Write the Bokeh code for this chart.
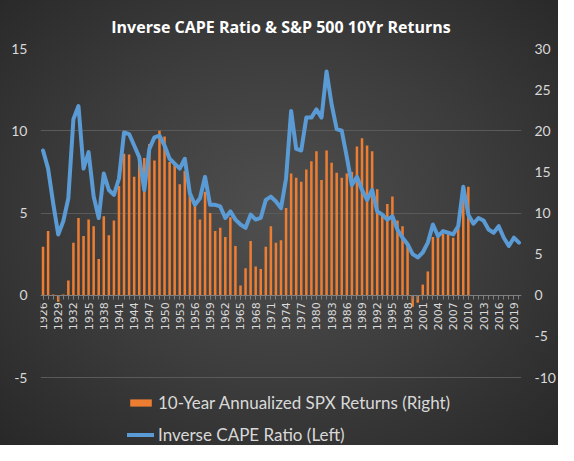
from bokeh.plotting import figure
from bokeh.models import Range1d, LinearAxis, FixedTicker, Legend, LegendItem, Grid
from bokeh.embed import file_html
from bokeh.resources import INLINE

# ---- data ----
years = list(range(1926, 2021))
return_years = list(range(1926, 2011))
spx_returns = [
    5.9, 7.8, 0.1, -0.8, 0.1, 1.8, 6.4, 9.4, 7.2, 9.2,
    8.4, 4.4, 9.6, 7.3, 9.1, 13.3, 17.2, 17.1, 14.4, 16.5,
    16.7, 18.4, 16.4, 20.0, 19.3, 16.2, 16.1, 13.5, 15.1, 12.3,
    11.0, 9.2, 12.6, 10.0, 7.8, 8.2, 7.1, 9.5, 6.0, 1.2,
    3.3, 6.6, 3.5, 3.2, 5.9, 8.4, 6.4, 6.7, 10.6, 14.8,
    14.3, 13.8, 15.3, 16.3, 17.5, 14.0, 17.6, 16.1, 14.9, 14.3,
    14.8, 15.0, 18.1, 19.1, 18.2, 17.5, 12.9, 9.7, 11.1, 12.0,
    9.1, 8.4, 6.3, -1.4, -0.9, 1.3, 2.9, 7.1, 7.1, 7.5,
    7.4, 7.0, 8.3, 12.9, 13.2,
]
inverse_cape = [
    8.8, 7.7, 5.6, 3.7, 4.5, 5.9, 10.7, 11.5, 7.7, 8.7,
    6.0, 4.7, 7.4, 6.4, 6.1, 7.1, 9.9, 9.8, 9.1, 8.4,
    6.4, 8.9, 9.6, 9.7, 9.1, 8.3, 8.0, 7.7, 8.3, 6.2,
    5.5, 5.9, 7.2, 5.5, 5.5, 5.4, 4.7, 5.1, 4.6, 4.3,
    4.1, 4.9, 4.6, 4.7, 5.8, 6.0, 5.7, 5.3, 7.1, 11.2,
    8.9, 8.8, 10.8, 10.8, 11.3, 10.8, 13.6, 11.6, 10.1, 10.0,
    8.4, 6.7, 7.2, 6.4, 5.8, 6.4, 5.1, 4.9, 4.6, 4.8,
    4.0, 3.5, 3.1, 2.5, 2.3, 2.6, 3.2, 4.3, 3.6, 3.9,
    3.8, 3.7, 4.2, 6.6, 4.9, 4.35, 4.7, 4.55, 4.0, 3.8,
    4.2, 3.5, 3.0, 3.5, 3.2,
]
left_ticks = [-5, 0, 5, 10, 15]
right_ticks = [-10, -5, 0, 5, 10, 15, 20, 25, 30]
grid_ticks = [-5, 5, 10, 15]
year_labels = years[::3]

title_text = "Inverse CAPE Ratio & S&P 500 10Yr Returns"
bar_label = "10-Year Annualized SPX Returns (Right)"
line_label = "Inverse CAPE Ratio (Left)"

TXT = "#d9d9d9"
ORANGE = "#ED7D31"
BLUE = "#5B9BD5"

# the frame reaches below the -5 line so the legend can sit inside it
LEFT_LO, LEFT_HI = -9.13, 15
RIGHT_LO, RIGHT_HI = -18.26, 30

p = figure(
    width=558, height=445,
    output_backend="svg", toolbar_location=None,
    x_range=Range1d(years[0] - 0.5, years[-1] + 0.5),
    y_range=Range1d(LEFT_LO, LEFT_HI),
    x_axis_location=None, y_axis_location=None,
    min_border_left=40, min_border_right=34,
    min_border_top=48, min_border_bottom=0,
    title=title_text,
)
for g in p.grid:
    g.visible = False
p.extra_y_ranges = {"right": Range1d(RIGHT_LO, RIGHT_HI)}
p.border_fill_color = None
p.background_fill_color = None
p.outline_line_color = None
p.styles = {"background": "radial-gradient(ellipse at 50% 48%, #4f4f4f 0%, #3d3d3d 50%, #282828 100%)"}

p.title.text_color = "white"
p.title.text_font = "Open Sans"
p.title.text_font_style = "bold"
p.title.text_font_size = "16px"
p.title.align = "center"
p.title.offset = 5
p.title.standoff = 21

grid = Grid(dimension=1, ticker=FixedTicker(ticks=grid_ticks),
            grid_line_color="#5a5a5a", grid_line_width=1)
p.add_layout(grid)

left = LinearAxis(ticker=FixedTicker(ticks=left_ticks))
right = LinearAxis(y_range_name="right", ticker=FixedTicker(ticks=right_ticks))
for ax, ticks in ((left, left_ticks), (right, right_ticks)):
    ax.axis_line_color = None
    ax.major_tick_line_color = None
    ax.minor_tick_line_color = None
    ax.major_tick_out = 0
    ax.minor_tick_out = 0
    ax.major_label_text_color = TXT
    ax.major_label_text_font = "Lato"
    ax.major_label_text_font_size = "14px"
    ax.major_label_overrides = {t: str(t) for t in ticks if t < 0}
left.major_label_standoff = 13
right.major_label_standoff = 13
p.add_layout(left, "left")
p.add_layout(right, "right")

bars = p.vbar(x=return_years, top=spx_returns, width=0.5, y_range_name="right",
              fill_color=ORANGE, line_color=None)
line = p.line(years, inverse_cape, line_width=4, line_color=BLUE,
              line_join="round", line_cap="round")

xaxis = LinearAxis(ticker=FixedTicker(ticks=year_labels, minor_ticks=years),
                   fixed_location=0)
xaxis.axis_line_color = "#7f7f7f"
xaxis.major_tick_line_color = "#7f7f7f"
xaxis.minor_tick_line_color = "#7f7f7f"
xaxis.major_tick_in = 0
xaxis.major_tick_out = 4
xaxis.minor_tick_in = 0
xaxis.minor_tick_out = 4
xaxis.major_label_orientation = 1.5708
xaxis.major_label_text_color = TXT
xaxis.major_label_text_font = "DejaVu Sans"
xaxis.major_label_text_font_size = "11px"
xaxis.major_label_standoff = 3
p.add_layout(xaxis, "below")

legend = Legend(
    items=[LegendItem(label=bar_label, renderers=[bars]),
           LegendItem(label=line_label, renderers=[line])],
    location=(87, 0),
    background_fill_alpha=0, border_line_color=None,
    label_text_color=TXT, label_text_font="Lato", label_text_font_size="17px",
    glyph_width=27, glyph_height=9, label_height=18, spacing=11,
    padding=0, margin=0, label_standoff=4,
)
p.add_layout(legend)

open("out.html", "w").write(file_html(p, INLINE))
